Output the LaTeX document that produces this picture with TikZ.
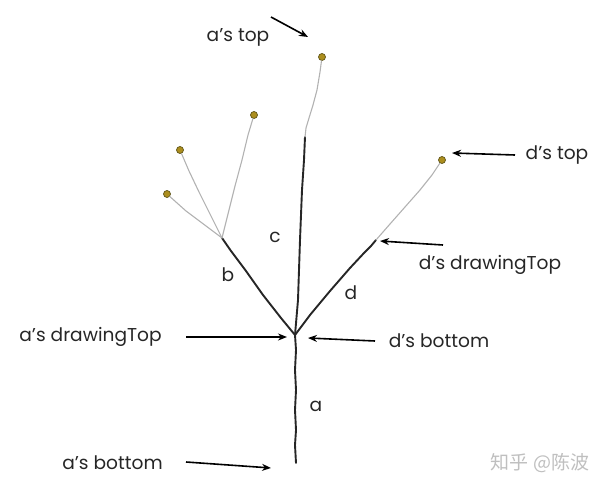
\documentclass[tikz,border=0pt]{standalone}
\usepackage{fontspec}
\setmainfont{Poppins}
\newfontfamily\cjk{Noto Sans CJK SC}
\usetikzlibrary{arrows.meta}
\definecolor{tipfill}{RGB}{172,142,30}
\definecolor{tipline}{RGB}{95,85,25}
\begin{document}
\begin{tikzpicture}[x=1pt,y=-1pt,
  lbl/.style={font=\fontsize{18.6}{22}\selectfont, text=black!85, inner sep=0pt},
  ptr/.style={line width=1.6pt, -{Stealth[length=9pt,width=7pt]}},
  dark/.style={line width=1.9pt, draw=black!85, line join=round, line cap=round},
  pale/.style={line width=1.1pt, draw=black!30, line join=round, line cap=round},
  tip/.style={circle, draw=tipline, fill=tipfill, line width=0.7pt, inner sep=0pt, minimum size=7pt}]
\useasboundingbox (0,0) rectangle (600,486);
% key points
\coordinate (J) at (295,335);
\coordinate (cBreak) at (305,137);
\coordinate (bFork) at (222,238);
\coordinate (dBreak) at (376,240);
\coordinate (aBottom) at (296,463);
\node[tip] (cTop) at (322,57) {};
\node[tip] (b1) at (180,150) {};
\node[tip] (b2) at (254,115) {};
\node[tip] (b3) at (167,194) {};
\node[tip] (dTop) at (442,160) {};
% trunk a
\draw[dark] (J) -- (296,350) -- (295,370) -- (296,390) -- (295,410) -- (296,430) -- (295,445) -- (aBottom);
% c
\draw[dark] (J) -- (298,300) -- (299,270) -- (300,240) -- (301,215) -- (302,190) -- (304,160) -- (cBreak);
\draw[pale] (cBreak) -- (306,128) -- (309,118) -- (313,105) -- (317,90) -- (320,72) -- (cTop);
% b
\draw[dark] (J) -- (281,318) -- (263,295) -- (246,271) -- (231,251) -- (bFork);
\draw[pale] (bFork) -- (212,218) -- (199,192) -- (189,171) -- (b1);
\draw[pale] (bFork) -- (228,214) -- (235,186) -- (242,160) -- (248,135) -- (b2);
\draw[pale] (bFork) -- (206,226) -- (186,211) -- (b3);
% d
\draw[dark] (J) -- (310,315) -- (330,291) -- (350,268) -- (364,253) -- (371,246) -- (dBreak);
\draw[pale] (dBreak) -- (390,224) -- (405,207) -- (420,190) -- (432,175) -- (dTop);
% segment labels
\node[lbl] (lc) at (275,237) {c};
\node[lbl] (lb) at (228,275) {b};
\node[lbl] (ld) at (351,293) {d};
\node[lbl] (la) at (316,406) {a};
% annotations
\node[lbl] (tATop) at (238,37) {a’s top};
\coordinate (sATop) at (271,17);
\coordinate (eATop) at (308,37);
\draw[ptr] (sATop) -- (eATop);
\node[lbl] (tDTop) at (557,155) {d’s top};
\coordinate (sDTop) at (515,155);
\coordinate (eDTop) at (452,153);
\draw[ptr] (sDTop) -- (eDTop);
\node[lbl] (tDDT) at (490,265) {d’s drawingTop};
\coordinate (sDDT) at (443,245);
\coordinate (eDDT) at (380,241);
\draw[ptr] (sDDT) -- (eDDT);
\node[lbl] (tADT) at (90.5,337) {a’s drawingTop};
\coordinate (sADT) at (186,337);
\coordinate (eADT) at (287,337);
\draw[ptr] (sADT) -- (eADT);
\node[lbl] (tDB) at (439,341) {d’s bottom};
\coordinate (sDB) at (375,341);
\coordinate (eDB) at (308,338);
\draw[ptr] (sDB) -- (eDB);
\node[lbl] (tAB) at (112.5,463) {a’s bottom};
\coordinate (sAB) at (186,462);
\coordinate (eAB) at (271,468);
\draw[ptr] (sAB) -- (eAB);
% watermark
\node[font=\cjk\fontsize{19}{22}\selectfont, text=black!25, inner sep=0pt] (wm) at (540,463) {知乎 @陈波};
\end{tikzpicture}
\end{document}
